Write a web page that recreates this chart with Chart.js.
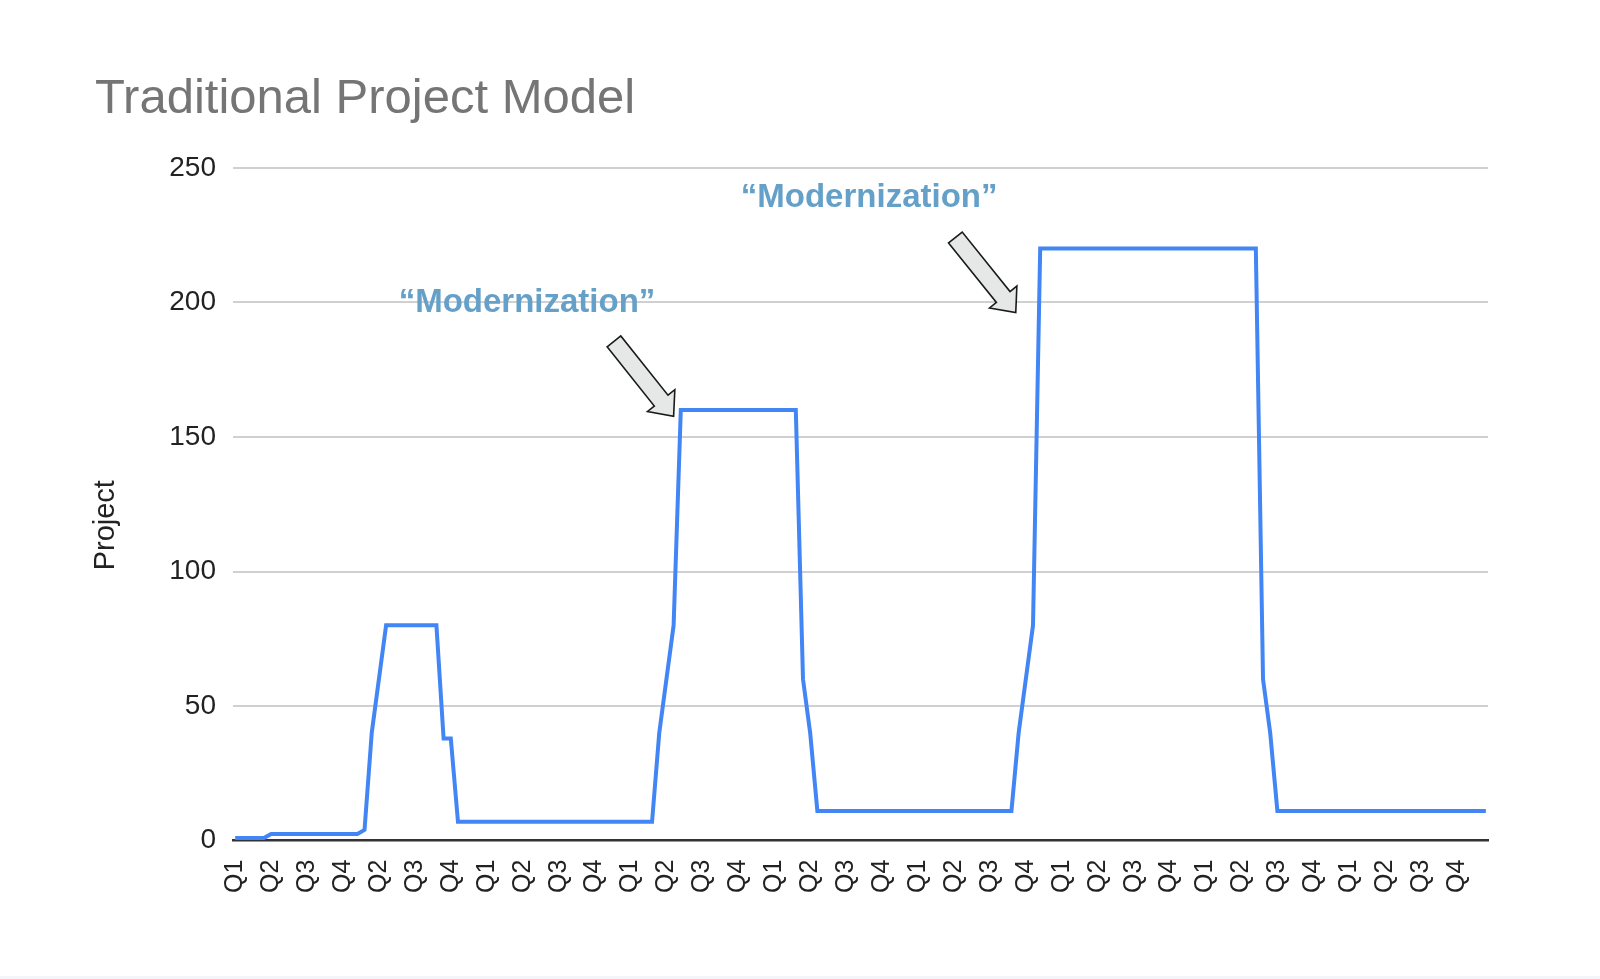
<!DOCTYPE html>
<html>
<head>
<meta charset="utf-8">
<script src="https://cdn.jsdelivr.net/npm/chart.js@4.4.1/dist/chart.umd.min.js"></script>
<style>
  html, body { margin: 0; padding: 0; background: #ffffff; }
  #wrap { width: 1600px; height: 979px; position: relative; }
  #strip { position: absolute; left: 0; top: 976px; width: 1600px; height: 3px; background: #f3f5f8; }
</style>
</head>
<body>
<div id="wrap"><canvas id="c" width="1600" height="979"></canvas><div id="strip"></div></div>
<script>
// ---- Data ----
const tickLabels = ["Q1","Q2","Q3","Q4","Q2","Q3","Q4","Q1","Q2","Q3","Q4","Q1","Q2","Q3","Q4","Q1","Q2","Q3","Q4","Q1","Q2","Q3","Q4","Q1","Q2","Q3","Q4","Q1","Q2","Q3","Q4","Q1","Q2","Q3","Q4"];
const tickStep = 5; // one visible label every 5 data rows
const pointIndex = [0, 4, 5, 17, 18, 19, 21, 28, 29, 30, 31, 58, 59, 61, 62, 78, 79, 80, 81, 108, 109, 111, 112, 142, 143, 144, 145, 174];
const projectValues = [1, 1, 2.5, 2.5, 4, 40, 80, 80, 38, 38, 7, 7, 40, 80, 160, 160, 60, 40, 11, 11, 40, 80, 220, 220, 60, 40, 11, 11];
const yTicks = [0, 50, 100, 150, 200, 250];

const titleText = "Traditional Project Model";
const yAxisTitle = "Project";
const noteText = "\u201CModernization\u201D";
// annotation anchors in data units: [x index, y value]
const noteAnchors = [[40.6, 196.5], [88.2, 235.6]];
const arrowTails = [[52.7, 185.5], [100.2, 224.1]];
const arrowTips = [[61.0, 157.7], [108.6, 196.2]];

Chart.defaults.font.family = "'Liberation Sans', Arial, Helvetica, sans-serif";

const annotationPlugin = {
  id: 'notes',
  afterDatasetsDraw(chart) {
    const ctx = chart.ctx;
    const xs = chart.scales.x, ys = chart.scales.y;
    ctx.save();
    // y axis title (placed a bit below the axis middle, as in the reference)
    ctx.save();
    ctx.translate(106, (chart.chartArea.top + chart.chartArea.bottom) / 2 + 21);
    ctx.rotate(-Math.PI / 2);
    ctx.font = "29px 'Liberation Sans', Arial, sans-serif";
    ctx.fillStyle = '#222222';
    ctx.textAlign = 'center';
    ctx.textBaseline = 'middle';
    ctx.fillText(yAxisTitle, 0, 0);
    ctx.restore();
    // arrows
    for (let i = 0; i < arrowTails.length; i++) {
      const x1 = xs.getPixelForValue(arrowTails[i][0]);
      const y1 = ys.getPixelForValue(arrowTails[i][1]);
      const x2 = xs.getPixelForValue(arrowTips[i][0]);
      const y2 = ys.getPixelForValue(arrowTips[i][1]);
      const dx = x2 - x1, dy = y2 - y1;
      const len = Math.hypot(dx, dy);
      const ux = dx / len, uy = dy / len;
      const nx = -uy, ny = ux;
      const sw = 17.5, hw = 35, hl = 20;
      const bx = x2 - ux * hl, by = y2 - uy * hl;
      ctx.beginPath();
      ctx.moveTo(x1 + nx * sw / 2, y1 + ny * sw / 2);
      ctx.lineTo(bx + nx * sw / 2, by + ny * sw / 2);
      ctx.lineTo(bx + nx * hw / 2, by + ny * hw / 2);
      ctx.lineTo(x2, y2);
      ctx.lineTo(bx - nx * hw / 2, by - ny * hw / 2);
      ctx.lineTo(bx - nx * sw / 2, by - ny * sw / 2);
      ctx.lineTo(x1 - nx * sw / 2, y1 - ny * sw / 2);
      ctx.closePath();
      ctx.fillStyle = '#e6e8e8';
      ctx.fill();
      ctx.lineWidth = 1.6;
      ctx.strokeStyle = '#1a1a1a';
      ctx.lineJoin = 'miter';
      ctx.stroke();
    }
    // texts
    ctx.font = "bold 33px 'Liberation Sans', Arial, sans-serif";
    ctx.fillStyle = '#64a0c8';
    ctx.textAlign = 'center';
    ctx.textBaseline = 'alphabetic';
    for (const a of noteAnchors) {
      ctx.fillText(noteText, xs.getPixelForValue(a[0]), ys.getPixelForValue(a[1]));
    }
    ctx.restore();
  }
};

new Chart(document.getElementById('c'), {
  type: 'line',
  data: {
    datasets: [{
      label: yAxisTitle,
      data: pointIndex.map((x, i) => ({ x: x, y: projectValues[i] })),
      borderColor: '#4285f4',
      backgroundColor: '#4285f4',
      borderWidth: 4,
      pointRadius: 0,
      pointHoverRadius: 0,
      tension: 0,
      fill: false
    }]
  },
  options: {
    responsive: false,
    animation: false,
    devicePixelRatio: 1,
    layout: { padding: { left: 95, right: 112, top: 0, bottom: 67 } },
    plugins: {
      legend: { display: false },
      tooltip: { enabled: false },
      title: {
        display: true,
        text: titleText,
        align: 'start',
        color: '#757575',
        font: { size: 49, weight: 'normal' },
        padding: { top: 70, bottom: 39 }
      }
    },
    scales: {
      x: {
        type: 'linear',
        min: -0.3,
        max: 174.3,
        afterBuildTicks(axis) {
          axis.ticks = tickLabels.map((l, i) => ({ value: i * tickStep }));
        },
        ticks: {
          autoSkip: false,
          maxRotation: 90,
          minRotation: 90,
          padding: 19,
          color: '#222222',
          font: { size: 25 },
          callback: (value, index) => tickLabels[index]
        },
        grid: { display: false, drawTicks: false },
        border: { display: true, color: '#333333', width: 2.5 }
      },
      y: {
        min: 0,
        max: 250,
        afterBuildTicks(axis) {
          axis.ticks = yTicks.map(v => ({ value: v }));
        },
        afterFit(scale) { scale.width = 138; },
        ticks: {
          padding: 17,
          color: '#222222',
          font: { size: 28 }
        },
        title: { display: false },
        grid: {
          drawTicks: false,
          lineWidth: 2,
          color: ctx => (ctx.tick && ctx.tick.value === 0) ? 'rgba(0,0,0,0)' : '#d0d0d0'
        },
        border: { display: false }
      }
    }
  },
  plugins: [annotationPlugin]
});
</script>
</body>
</html>
